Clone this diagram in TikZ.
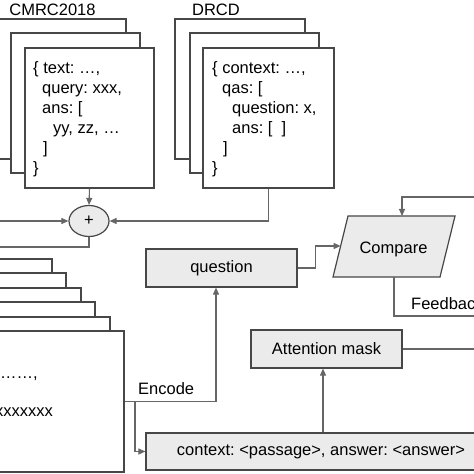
\documentclass[tikz,border=0pt]{standalone}
\usepackage{fontspec}
\setmainfont{Liberation Sans}
\usetikzlibrary{shapes.geometric,arrows.meta,calc}
\frenchspacing
\tikzset{
  pg/.style={draw=black!72, line width=1.2bp, fill=white, inner sep=0},
  gbox/.style={draw=black!72, line width=1.2bp, fill=black!8, inner sep=0},
  conn/.style={draw=black!60, line width=1.1bp},
  arr/.style={conn, -{Triangle[length=7bp,width=6bp]}},
  lbl/.style={inner sep=0},
  listing/.style={inner sep=0, align=left, anchor=north west},
}
\begin{document}
\begin{tikzpicture}[x=1bp,y=-1bp, every node/.append style={font=\fontsize{16.5bp}{20bp}\selectfont\frenchspacing}]
\useasboundingbox (0,0) rectangle (474,474);
\clip (0,0) rectangle (474,474);

% labels
\node[lbl, anchor=base] (lc) at (52.5,16) {CMRC2018};
\node[lbl, anchor=base] (ld) at (216,16) {DRCD};

% CMRC pages
\node[pg, minimum width=160bp, minimum height=140bp] (c1) at (46,89) {};
\node[pg, minimum width=129bp, minimum height=140bp] (c2) at (75.5,103) {};
\node[pg, minimum width=129bp, minimum height=140bp] (c3) at (89.5,118) {};
\node[listing] (ct) at (33,61.5) {\{ text: …,\\\hspace*{9bp}query: xxx,\\\hspace*{9bp}ans: [\\\hspace*{20bp}yy, zz, …\\\hspace*{10bp}]\\\}};

% DRCD pages
\node[pg, minimum width=130bp, minimum height=140bp] (d1) at (240,89) {};
\node[pg, minimum width=129bp, minimum height=140bp] (d2) at (254.5,103) {};
\node[pg, minimum width=131bp, minimum height=140bp] (d3) at (268.5,118) {};
\node[listing] (dt) at (212,61.5) {\{ context: …,\\\hspace*{10bp}qas: [\\\hspace*{20bp}question: x,\\\hspace*{20bp}ans: [~~]\\\hspace*{11bp}]\\\}};

% merge
\node[gbox, ellipse, minimum width=40bp, minimum height=31bp] (plus) at (89,221) {+};
\coordinate (inL) at (-5,221);
\coordinate (outL) at (-5,247);
\draw[arr] (c3.south) -- (plus.north);
\draw[arr] (inL) -- (plus.west);
\draw[arr] (d3.south) |- (plus.east);
\draw[conn] (plus.south) |- (outL);

% stacked pages lower left
\node[pg, minimum width=200bp, minimum height=141bp] (p1) at (-48,329.5) {};
\node[pg, minimum width=200bp, minimum height=141bp] (p2) at (-34,343.5) {};
\node[pg, minimum width=200bp, minimum height=141bp] (p3) at (-19,358.5) {};
\node[pg, minimum width=200bp, minimum height=141bp] (p4) at (-5,372.5) {};
\node[pg, minimum width=200bp, minimum height=141bp] (p5) at (10,387.5) {};
\node[pg, minimum width=200bp, minimum height=141bp] (p6) at (24,401.5) {};
\node[lbl, anchor=base east] (t6a) at (38,378) {……,};
\node[lbl, anchor=base east] (t6b) at (53,416.5) {xxxxxxx};

% boxes
\node[gbox, minimum width=151bp, minimum height=38bp] (q) at (221.5,268) {question};
\node[gbox, minimum width=151bp, minimum height=38bp] (att) at (326.5,349) {Attention mask};
\node[gbox, minimum width=350bp, minimum height=37bp] (ctx) at (321,451.5) {context: <passage>, answer: <answer>};

% compare parallelogram
\coordinate (k1) at (348,216);
\coordinate (k2) at (455,216);
\coordinate (k3) at (440,277);
\coordinate (k4) at (333,277);
\filldraw[draw=black!72, line width=1.2bp, fill=black!8] (k1) -- (k2) -- (k3) -- (k4) -- cycle;
\node[lbl, anchor=base] (cmp) at (393.5,253) {Compare};
\coordinate (cmpL) at (340.6,246);
\coordinate (cmpT) at (402,216);
\coordinate (cmpB) at (394,277);

% connectors
\coordinate (br) at (135,401.5);
\draw[arr] (p6.east) -| ($(q.south)+(-5.5,0)$);
\node[lbl, anchor=base west] (enc) at (138,394) {Encode};
\draw[arr] (br) |- (ctx.west);
\draw[arr] (q.east) -- ++(18,0) |- (cmpL);
\coordinate (topR) at (480,197);
\draw[arr] (topR) -| (cmpT);
\coordinate (fbR) at (480,316);
\draw[conn] (cmpB) |- (fbR);
\node[lbl, anchor=base west] (fb) at (411,309) {Feedback};
\coordinate (attR) at (480,349);
\draw[conn] (att.east) -- (attR);
\coordinate (ax) at (323,0);
\draw[arr] (ctx.north -| ax) -- (att.south -| ax);
\end{tikzpicture}
\end{document}
